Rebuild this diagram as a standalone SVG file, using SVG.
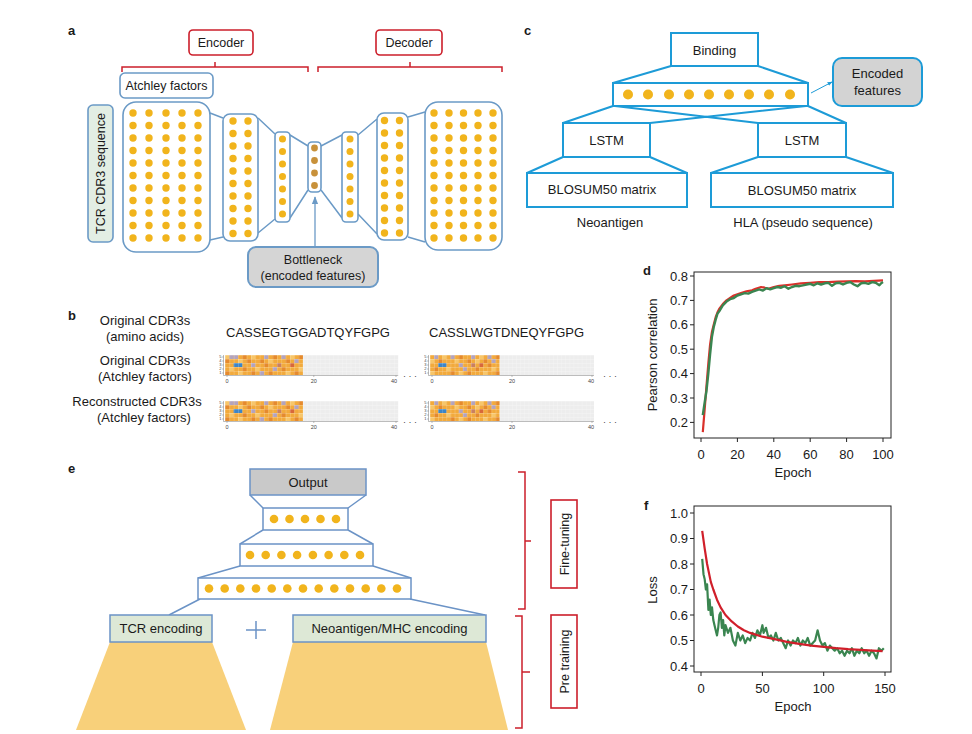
<svg xmlns="http://www.w3.org/2000/svg" width="972" height="734" viewBox="0 0 972 734">
<style>
text{font-family:"Liberation Sans",Arial,sans-serif;fill:#1a1a1a}
.t{font-size:12.5px}
.m{text-anchor:middle}
.e{text-anchor:end}
.lab{font-size:13px;font-weight:bold}
.la{fill:#fff;stroke:#6b9ac6;stroke-width:1.6}
.ln{fill:none;stroke:#6b9ac6;stroke-width:1.5}
.lc{fill:#fff;stroke:#1d9bd7;stroke-width:2}
.lcl{fill:none;stroke:#1d9bd7;stroke-width:2}
.le{fill:#fff;stroke:#6b93c6;stroke-width:1.5}
.lel{fill:none;stroke:#6b93c6;stroke-width:1.5}
.red{fill:#fff;stroke:#cc1f2b;stroke-width:1.6}
.br{fill:none;stroke:#cc1f2b;stroke-width:1.5}
.dot{fill:#f1b41c}
.bd{fill:#c8913a}
.ax{fill:none;stroke:#222;stroke-width:1}
.tk{font-size:13px}
.hs{font-size:4px;fill:#444}
.hx{font-size:5.5px;fill:#444;text-anchor:middle}
</style>
<defs>
<marker id="arA" viewBox="0 0 10 10" refX="9" refY="5" markerWidth="6" markerHeight="6" orient="auto"><path d="M0,1 L10,5 L0,9 z" fill="#6b9ac6"/></marker>
<marker id="arC" viewBox="0 0 10 10" refX="9" refY="5" markerWidth="5" markerHeight="5" orient="auto"><path d="M0,1 L10,5 L0,9 z" fill="#1d9bd7"/></marker>
<pattern id="gr" width="1" height="1" patternUnits="userSpaceOnUse"><path d="M0 0H1M0 0V1" stroke="#fff" stroke-width="0.12" stroke-opacity="0.75" fill="none"/></pattern>
<g id="hm1">
<g transform="scale(4.33,4)">
<rect x="0" y="0" width="18" height="5" fill="#f2aa3c"/>
<g>
<rect x="0" y="0" width="1" height="1" fill="#f7c66a"/><rect x="1" y="0" width="1" height="1" fill="#b3a3bd"/><rect x="2" y="0" width="1" height="1" fill="#b3a3bd"/><rect x="4" y="0" width="1" height="1" fill="#e58a2e"/><rect x="6" y="0" width="1" height="1" fill="#f7c66a"/><rect x="9" y="0" width="1" height="1" fill="#b3a3bd"/><rect x="11" y="0" width="1" height="1" fill="#e58a2e"/><rect x="13" y="0" width="1" height="1" fill="#b3a3bd"/><rect x="15" y="0" width="1" height="1" fill="#f7c66a"/><rect x="17" y="0" width="1" height="1" fill="#e58a2e"/>
<rect x="0" y="1" width="1" height="1" fill="#e58a2e"/><rect x="3" y="1" width="1" height="1" fill="#f7c66a"/><rect x="5" y="1" width="1" height="1" fill="#e58a2e"/><rect x="8" y="1" width="1" height="1" fill="#e58a2e"/><rect x="10" y="1" width="1" height="1" fill="#f7c66a"/><rect x="14" y="1" width="1" height="1" fill="#e58a2e"/><rect x="16" y="1" width="1" height="1" fill="#b3a3bd"/>
<rect x="2" y="2" width="2" height="1" fill="#3d85c6"/><rect x="6" y="2" width="1" height="1" fill="#b3a3bd"/><rect x="9" y="2" width="1" height="1" fill="#e58a2e"/><rect x="12" y="2" width="1" height="1" fill="#c98060"/><rect x="15" y="2" width="1" height="1" fill="#d8683a"/>
<rect x="1" y="3" width="1" height="1" fill="#f7c66a"/><rect x="4" y="3" width="1" height="1" fill="#e58a2e"/><rect x="7" y="3" width="1" height="1" fill="#f7c66a"/><rect x="11" y="3" width="1" height="1" fill="#b3a3bd"/><rect x="13" y="3" width="1" height="1" fill="#e58a2e"/><rect x="17" y="3" width="1" height="1" fill="#f7c66a"/>
<rect x="0" y="4" width="1" height="1" fill="#e58a2e"/><rect x="3" y="4" width="1" height="1" fill="#f7c66a"/><rect x="6" y="4" width="1" height="1" fill="#e58a2e"/><rect x="8" y="4" width="1" height="1" fill="#b3a3bd"/><rect x="10" y="4" width="1" height="1" fill="#e58a2e"/><rect x="14" y="4" width="1" height="1" fill="#f7c66a"/><rect x="16" y="4" width="1" height="1" fill="#e58a2e"/>
</g>
<rect x="18" y="0" width="22" height="5" fill="#ededed"/>
<rect x="0" y="0" width="40" height="5" fill="url(#gr)"/>
</g>
<path d="M-1.5 0V20.5H173.2M-1.5 2H-3M-1.5 6H-3M-1.5 10H-3M-1.5 14H-3M-1.5 18H-3M2 20.5V22M88.8 20.5V22M171 20.5V22" stroke="#555" stroke-width="0.4" fill="none"/>
<text class="hs e" x="-3.5" y="3.4">5</text><text class="hs e" x="-3.5" y="7.4">4</text><text class="hs e" x="-3.5" y="11.4">3</text><text class="hs e" x="-3.5" y="15.4">2</text><text class="hs e" x="-3.5" y="19.4">1</text>
<text class="hx" x="2" y="28">0</text><text class="hx" x="88.8" y="28">20</text><text class="hx" x="169" y="28">40</text>
</g>
<g id="hm2">
<g transform="scale(4.1,4)">
<rect x="0" y="0" width="17" height="5" fill="#f2aa3c"/>
<g>
<rect x="1" y="0" width="1" height="1" fill="#b3a3bd"/><rect x="3" y="0" width="1" height="1" fill="#f7c66a"/><rect x="5" y="0" width="1" height="1" fill="#b3a3bd"/><rect x="7" y="0" width="1" height="1" fill="#e58a2e"/><rect x="10" y="0" width="1" height="1" fill="#b3a3bd"/><rect x="12" y="0" width="1" height="1" fill="#f7c66a"/><rect x="14" y="0" width="1" height="1" fill="#b3a3bd"/><rect x="16" y="0" width="1" height="1" fill="#e58a2e"/>
<rect x="0" y="1" width="1" height="1" fill="#f7c66a"/><rect x="2" y="1" width="1" height="1" fill="#e58a2e"/><rect x="6" y="1" width="1" height="1" fill="#f7c66a"/><rect x="9" y="1" width="1" height="1" fill="#e58a2e"/><rect x="11" y="1" width="1" height="1" fill="#f7c66a"/><rect x="13" y="1" width="1" height="1" fill="#e58a2e"/><rect x="15" y="1" width="1" height="1" fill="#b3a3bd"/>
<rect x="2" y="2" width="2" height="1" fill="#3d85c6"/><rect x="7" y="2" width="1" height="1" fill="#b3a3bd"/><rect x="10" y="2" width="1" height="1" fill="#c98060"/><rect x="12" y="2" width="1" height="1" fill="#d8683a"/><rect x="14" y="2" width="1" height="1" fill="#e58a2e"/>
<rect x="1" y="3" width="1" height="1" fill="#e58a2e"/><rect x="4" y="3" width="1" height="1" fill="#f7c66a"/><rect x="8" y="3" width="1" height="1" fill="#b3a3bd"/><rect x="11" y="3" width="1" height="1" fill="#e58a2e"/><rect x="15" y="3" width="1" height="1" fill="#f7c66a"/>
<rect x="0" y="4" width="1" height="1" fill="#f7c66a"/><rect x="5" y="4" width="1" height="1" fill="#e58a2e"/><rect x="7" y="4" width="1" height="1" fill="#f7c66a"/><rect x="9" y="4" width="1" height="1" fill="#e58a2e"/><rect x="13" y="4" width="1" height="1" fill="#f7c66a"/><rect x="16" y="4" width="1" height="1" fill="#e58a2e"/>
</g>
<rect x="17" y="0" width="23" height="5" fill="#ededed"/>
<rect x="0" y="0" width="40" height="5" fill="url(#gr)"/>
</g>
<path d="M-1.5 0V20.5H164M-1.5 2H-3M-1.5 6H-3M-1.5 10H-3M-1.5 14H-3M-1.5 18H-3M2 20.5V22M82 20.5V22M162 20.5V22" stroke="#555" stroke-width="0.4" fill="none"/>
<text class="hs e" x="-3.5" y="3.4">5</text><text class="hs e" x="-3.5" y="7.4">4</text><text class="hs e" x="-3.5" y="11.4">3</text><text class="hs e" x="-3.5" y="15.4">2</text><text class="hs e" x="-3.5" y="19.4">1</text>
<text class="hx" x="2" y="28">0</text><text class="hx" x="82" y="28">20</text><text class="hx" x="161" y="28">40</text>
</g>
</defs>

<!-- Panel labels -->
<g id="panel-labels">
<text class="lab" x="68" y="35">a</text>
<text class="lab" x="68" y="320">b</text>
<text class="lab" x="524" y="35">c</text>
<text class="lab" x="643" y="275">d</text>
<text class="lab" x="68" y="473">e</text>
<text class="lab" x="644" y="510">f</text>
</g>

<!-- ===== Panel a ===== -->
<g id="a-connectors">
<path class="br" d="M122 72V67H308V72M215 67V62"/>
<path class="br" d="M318 72V67H502V72M410 67V62"/>
<path class="ln" d="M210 113L223 118M210 240L223 237M258 118L275 134M258 233L275 219M290 135L308 146M290 218L308 190M321 146L342 135M321 190L342 218M358 135L377 119M358 214L377 234M408 117L425 112M408 237L425 242"/>
<line x1="315" y1="246" x2="315" y2="197" stroke="#6b9ac6" stroke-width="1.3" marker-end="url(#arA)"/>
</g>
<g id="encoder-label"><rect class="red" x="189" y="30" width="64" height="25" rx="4"/><text class="t m" x="221" y="47">Encoder</text></g>
<g id="decoder-label"><rect class="red" x="376" y="30" width="66" height="25" rx="4"/><text class="t m" x="409" y="47">Decoder</text></g>
<g id="atchley"><rect class="la" x="120" y="73" width="93" height="25" rx="5"/><text class="t m" x="166.5" y="90">Atchley factors</text></g>
<g id="tcr-seq"><rect x="88" y="105" width="25" height="137" rx="5" fill="#e3eee4" stroke="#6b9ac6" stroke-width="1.6"/><text class="t m" transform="translate(105,173.5) rotate(-90)">TCR CDR3 sequence</text></g>
<g id="bottleneck-label"><rect x="248" y="247" width="130" height="40" rx="8" fill="#d5d5d5" stroke="#6b9ac6" stroke-width="2"/><text class="t m" x="313" y="264">Bottleneck</text><text class="t m" x="313" y="280">(encoded features)</text></g>

<g id="a-layer1"><rect class="la" x="123" y="102" width="87" height="150" rx="13"/>
<g class="dot">
<circle cx="133" cy="113" r="3.7"/><circle cx="149" cy="113" r="3.7"/><circle cx="166" cy="113" r="3.7"/><circle cx="182" cy="113" r="3.7"/><circle cx="198" cy="113" r="3.7"/>
<circle cx="133" cy="125.5" r="3.7"/><circle cx="149" cy="125.5" r="3.7"/><circle cx="166" cy="125.5" r="3.7"/><circle cx="182" cy="125.5" r="3.7"/><circle cx="198" cy="125.5" r="3.7"/>
<circle cx="133" cy="138" r="3.7"/><circle cx="149" cy="138" r="3.7"/><circle cx="166" cy="138" r="3.7"/><circle cx="182" cy="138" r="3.7"/><circle cx="198" cy="138" r="3.7"/>
<circle cx="133" cy="150.5" r="3.7"/><circle cx="149" cy="150.5" r="3.7"/><circle cx="166" cy="150.5" r="3.7"/><circle cx="182" cy="150.5" r="3.7"/><circle cx="198" cy="150.5" r="3.7"/>
<circle cx="133" cy="163" r="3.7"/><circle cx="149" cy="163" r="3.7"/><circle cx="166" cy="163" r="3.7"/><circle cx="182" cy="163" r="3.7"/><circle cx="198" cy="163" r="3.7"/>
<circle cx="133" cy="175.5" r="3.7"/><circle cx="149" cy="175.5" r="3.7"/><circle cx="166" cy="175.5" r="3.7"/><circle cx="182" cy="175.5" r="3.7"/><circle cx="198" cy="175.5" r="3.7"/>
<circle cx="133" cy="188" r="3.7"/><circle cx="149" cy="188" r="3.7"/><circle cx="166" cy="188" r="3.7"/><circle cx="182" cy="188" r="3.7"/><circle cx="198" cy="188" r="3.7"/>
<circle cx="133" cy="200.5" r="3.7"/><circle cx="149" cy="200.5" r="3.7"/><circle cx="166" cy="200.5" r="3.7"/><circle cx="182" cy="200.5" r="3.7"/><circle cx="198" cy="200.5" r="3.7"/>
<circle cx="133" cy="213" r="3.7"/><circle cx="149" cy="213" r="3.7"/><circle cx="166" cy="213" r="3.7"/><circle cx="182" cy="213" r="3.7"/><circle cx="198" cy="213" r="3.7"/>
<circle cx="133" cy="225.5" r="3.7"/><circle cx="149" cy="225.5" r="3.7"/><circle cx="166" cy="225.5" r="3.7"/><circle cx="182" cy="225.5" r="3.7"/><circle cx="198" cy="225.5" r="3.7"/>
<circle cx="133" cy="238" r="3.7"/><circle cx="149" cy="238" r="3.7"/><circle cx="166" cy="238" r="3.7"/><circle cx="182" cy="238" r="3.7"/><circle cx="198" cy="238" r="3.7"/>
</g></g>
<g id="a-layer2"><rect class="la" x="223" y="114" width="35" height="127" rx="7"/>
<g class="dot">
<circle cx="233" cy="121" r="3.7"/><circle cx="248" cy="121" r="3.7"/><circle cx="233" cy="133.5" r="3.7"/><circle cx="248" cy="133.5" r="3.7"/><circle cx="233" cy="146" r="3.7"/><circle cx="248" cy="146" r="3.7"/><circle cx="233" cy="158.5" r="3.7"/><circle cx="248" cy="158.5" r="3.7"/><circle cx="233" cy="171" r="3.7"/><circle cx="248" cy="171" r="3.7"/><circle cx="233" cy="183.5" r="3.7"/><circle cx="248" cy="183.5" r="3.7"/><circle cx="233" cy="196" r="3.7"/><circle cx="248" cy="196" r="3.7"/><circle cx="233" cy="208.5" r="3.7"/><circle cx="248" cy="208.5" r="3.7"/><circle cx="233" cy="221" r="3.7"/><circle cx="248" cy="221" r="3.7"/><circle cx="233" cy="233.5" r="3.7"/><circle cx="248" cy="233.5" r="3.7"/>
</g></g>
<g id="a-layer3"><rect class="la" x="275" y="132" width="15" height="90" rx="4"/>
<g class="dot"><circle cx="282.5" cy="139" r="3.5"/><circle cx="282.5" cy="151.5" r="3.5"/><circle cx="282.5" cy="164" r="3.5"/><circle cx="282.5" cy="176.5" r="3.5"/><circle cx="282.5" cy="189" r="3.5"/><circle cx="282.5" cy="201.5" r="3.5"/><circle cx="282.5" cy="214" r="3.5"/></g></g>
<g id="a-bottleneck"><rect class="la" x="308" y="142" width="13" height="50" rx="4"/>
<g class="bd"><circle cx="314.5" cy="148" r="3.4"/><circle cx="314.5" cy="160.5" r="3.4"/><circle cx="314.5" cy="173" r="3.4"/><circle cx="314.5" cy="185.5" r="3.4"/></g></g>
<g id="a-layer5"><rect class="la" x="342" y="132" width="16" height="90" rx="4"/>
<g class="dot"><circle cx="350" cy="139" r="3.5"/><circle cx="350" cy="151.5" r="3.5"/><circle cx="350" cy="164" r="3.5"/><circle cx="350" cy="176.5" r="3.5"/><circle cx="350" cy="189" r="3.5"/><circle cx="350" cy="201.5" r="3.5"/><circle cx="350" cy="214" r="3.5"/></g></g>
<g id="a-layer6"><rect class="la" x="377" y="113" width="31" height="127" rx="7"/>
<g class="dot">
<circle cx="384.5" cy="120.5" r="3.7"/><circle cx="399.5" cy="120.5" r="3.7"/><circle cx="384.5" cy="133" r="3.7"/><circle cx="399.5" cy="133" r="3.7"/><circle cx="384.5" cy="145.5" r="3.7"/><circle cx="399.5" cy="145.5" r="3.7"/><circle cx="384.5" cy="158" r="3.7"/><circle cx="399.5" cy="158" r="3.7"/><circle cx="384.5" cy="170.5" r="3.7"/><circle cx="399.5" cy="170.5" r="3.7"/><circle cx="384.5" cy="183" r="3.7"/><circle cx="399.5" cy="183" r="3.7"/><circle cx="384.5" cy="195.5" r="3.7"/><circle cx="399.5" cy="195.5" r="3.7"/><circle cx="384.5" cy="208" r="3.7"/><circle cx="399.5" cy="208" r="3.7"/><circle cx="384.5" cy="220.5" r="3.7"/><circle cx="399.5" cy="220.5" r="3.7"/><circle cx="384.5" cy="233" r="3.7"/><circle cx="399.5" cy="233" r="3.7"/>
</g></g>
<g id="a-layer7"><rect class="la" x="425" y="102" width="77" height="148" rx="13"/>
<g class="dot">
<circle cx="434" cy="113" r="3.7"/><circle cx="449" cy="113" r="3.7"/><circle cx="463.5" cy="113" r="3.7"/><circle cx="478" cy="113" r="3.7"/><circle cx="493" cy="113" r="3.7"/>
<circle cx="434" cy="125.5" r="3.7"/><circle cx="449" cy="125.5" r="3.7"/><circle cx="463.5" cy="125.5" r="3.7"/><circle cx="478" cy="125.5" r="3.7"/><circle cx="493" cy="125.5" r="3.7"/>
<circle cx="434" cy="138" r="3.7"/><circle cx="449" cy="138" r="3.7"/><circle cx="463.5" cy="138" r="3.7"/><circle cx="478" cy="138" r="3.7"/><circle cx="493" cy="138" r="3.7"/>
<circle cx="434" cy="150.5" r="3.7"/><circle cx="449" cy="150.5" r="3.7"/><circle cx="463.5" cy="150.5" r="3.7"/><circle cx="478" cy="150.5" r="3.7"/><circle cx="493" cy="150.5" r="3.7"/>
<circle cx="434" cy="163" r="3.7"/><circle cx="449" cy="163" r="3.7"/><circle cx="463.5" cy="163" r="3.7"/><circle cx="478" cy="163" r="3.7"/><circle cx="493" cy="163" r="3.7"/>
<circle cx="434" cy="175.5" r="3.7"/><circle cx="449" cy="175.5" r="3.7"/><circle cx="463.5" cy="175.5" r="3.7"/><circle cx="478" cy="175.5" r="3.7"/><circle cx="493" cy="175.5" r="3.7"/>
<circle cx="434" cy="188" r="3.7"/><circle cx="449" cy="188" r="3.7"/><circle cx="463.5" cy="188" r="3.7"/><circle cx="478" cy="188" r="3.7"/><circle cx="493" cy="188" r="3.7"/>
<circle cx="434" cy="200.5" r="3.7"/><circle cx="449" cy="200.5" r="3.7"/><circle cx="463.5" cy="200.5" r="3.7"/><circle cx="478" cy="200.5" r="3.7"/><circle cx="493" cy="200.5" r="3.7"/>
<circle cx="434" cy="213" r="3.7"/><circle cx="449" cy="213" r="3.7"/><circle cx="463.5" cy="213" r="3.7"/><circle cx="478" cy="213" r="3.7"/><circle cx="493" cy="213" r="3.7"/>
<circle cx="434" cy="225.5" r="3.7"/><circle cx="449" cy="225.5" r="3.7"/><circle cx="463.5" cy="225.5" r="3.7"/><circle cx="478" cy="225.5" r="3.7"/><circle cx="493" cy="225.5" r="3.7"/>
<circle cx="434" cy="238" r="3.7"/><circle cx="449" cy="238" r="3.7"/><circle cx="463.5" cy="238" r="3.7"/><circle cx="478" cy="238" r="3.7"/><circle cx="493" cy="238" r="3.7"/>
</g></g>

<!-- ===== Panel b ===== -->
<g id="panel-b">
<text class="t m" x="145" y="325" style="font-size:13px">Original CDR3s</text>
<text class="t m" x="145" y="341" style="font-size:13px">(amino acids)</text>
<text class="t m" x="145" y="365" style="font-size:13px">Original CDR3s</text>
<text class="t m" x="145" y="381" style="font-size:13px">(Atchley factors)</text>
<text class="t m" x="137" y="406" style="font-size:13px">Reconstructed CDR3s</text>
<text class="t m" x="144" y="422" style="font-size:13px">(Atchley factors)</text>
<text x="226" y="337" style="font-size:13px">CASSEGTGGADTQYFGPG</text>
<text x="429" y="337" style="font-size:13px">CASSLWGTDNEQYFGPG</text>
<use href="#hm1" transform="translate(225,355)"/>
<use href="#hm1" transform="translate(225,401)"/>
<use href="#hm2" transform="translate(430,355)"/>
<use href="#hm2" transform="translate(430,401)"/>
<text x="403" y="379" style="font-size:9px;fill:#444">· · ·</text>
<text x="603" y="379" style="font-size:9px;fill:#444">· · ·</text>
<text x="403" y="425" style="font-size:9px;fill:#444">· · ·</text>
<text x="603" y="425" style="font-size:9px;fill:#444">· · ·</text>
</g>

<!-- ===== Panel c ===== -->
<g id="c-connectors">
<path class="lcl" d="M671 66L613 83M758 66L808 83M613 106L563 123M615 106L758 123M806 106L650 123M808 106L846 123M563 157L527 173M650 157L687 173M758 157L711 173M846 157L893 173"/>
<line x1="811" y1="93" x2="832" y2="82" stroke="#1d9bd7" stroke-width="1" marker-end="url(#arC)"/>
</g>
<g id="c-binding"><rect class="lc" x="671" y="33" width="87" height="33"/><text class="m" x="714.5" y="55" style="font-size:13px">Binding</text></g>
<g id="c-features"><rect class="lc" x="613" y="83" width="195" height="23"/>
<g class="dot"><circle cx="628" cy="94.5" r="5"/><circle cx="648" cy="94.5" r="5"/><circle cx="669" cy="94.5" r="5"/><circle cx="689" cy="94.5" r="5"/><circle cx="709" cy="94.5" r="5"/><circle cx="729" cy="94.5" r="5"/><circle cx="749" cy="94.5" r="5"/><circle cx="769" cy="94.5" r="5"/><circle cx="790" cy="94.5" r="5"/></g></g>
<g id="c-encoded"><rect x="833" y="58" width="89" height="48" rx="9" fill="#d3d3d3" stroke="#1d9bd7" stroke-width="2"/><text class="m" x="877.5" y="78" style="font-size:13px">Encoded</text><text class="m" x="877.5" y="95" style="font-size:13px">features</text></g>
<g id="c-lstm1"><rect class="lc" x="563" y="123" width="87" height="34"/><text class="m" x="606.5" y="145" style="font-size:13px">LSTM</text></g>
<g id="c-lstm2"><rect class="lc" x="758" y="123" width="88" height="34"/><text class="m" x="802" y="145" style="font-size:13px">LSTM</text></g>
<g id="c-blosum1"><rect class="lc" x="527" y="173" width="160" height="34"/><text class="m" x="602" y="194" style="font-size:13px">BLOSUM50 matrix</text></g>
<g id="c-blosum2"><rect class="lc" x="711" y="173" width="182" height="34"/><text class="m" x="802" y="195" style="font-size:13px">BLOSUM50 matrix</text></g>
<g id="c-captions"><text class="m" x="610" y="227" style="font-size:13px">Neoantigen</text><text class="m" x="803" y="227" style="font-size:13px">HLA (pseudo sequence)</text></g>

<!-- ===== Panel d ===== -->
<g id="plot-d">
<rect class="ax" x="694" y="272" width="197" height="166"/>
<path class="ax" d="M690 276H694M690 300.4H694M690 324.8H694M690 349.2H694M690 373.6H694M690 398H694M690 422.4H694M701 438V442M737.4 438V442M773.8 438V442M810.2 438V442M846.6 438V442M883 438V442"/>
<g class="tk">
<text class="e" x="688" y="280.5">0.8</text><text class="e" x="688" y="305">0.7</text><text class="e" x="688" y="329.3">0.6</text><text class="e" x="688" y="353.7">0.5</text><text class="e" x="688" y="378">0.4</text><text class="e" x="688" y="402.5">0.3</text><text class="e" x="688" y="427">0.2</text>
<text class="m" x="701" y="459">0</text><text class="m" x="737.4" y="459">20</text><text class="m" x="773.8" y="459">40</text><text class="m" x="810.2" y="459">60</text><text class="m" x="846.6" y="459">80</text><text class="m" x="883" y="459">100</text>
<text class="m" x="793" y="477">Epoch</text>
<text class="m" transform="translate(657,355) rotate(-90)">Pearson correlation</text>
</g>
<polyline fill="none" stroke="#d9302a" stroke-width="2.2" stroke-linejoin="round" points="702.8,432.2 704.6,410.2 706.5,385.8 708.3,363.8 710.1,344.3 711.9,332.1 713.7,324.8 715.6,317.5 717.4,312.6 719.2,308.9 722.8,304.1 726.5,300.4 730.1,298 733.8,295.5 737.4,294.3 741,293.1 746.5,291.4 752,290.2 755.6,288.7 761.1,287 764.7,287.7 768.3,288.7 773.8,287 779.3,285.8 784.7,285.3 792,284.5 801.1,283.3 810.2,282.8 819.3,282.1 828.4,282.1 837.5,281.6 846.6,281.4 855.7,281.1 864.8,281.4 873.9,280.9 883,280.4"/>
<polyline fill="none" stroke="#3a8550" stroke-width="2.4" stroke-linejoin="round" points="702.8,415.1 704.6,402.9 706.5,390.7 708.3,373.6 710.1,354.1 711.9,337 713.7,327.2 715.6,319.9 717.4,313.8 719.2,311.4 722.8,305.3 726.5,301.6 730.1,299.2 733.8,298 737.4,295.5 741,294.3 744.7,293.1 748.3,293.6 752,291.9 755.6,290.6 759.2,289.4 762.9,290.6 766.5,288.2 770.2,289.4 773.8,288.2 777.4,287 781.1,287.7 784.7,286.2 788.4,288.7 792,287 795.6,285.8 799.3,286.2 802.9,285.3 806.6,284.5 810.2,283.8 813.8,285.3 817.5,283.3 821.1,284.5 824.8,283.3 828.4,282.8 832,285.8 835.7,283.3 839.3,282.8 843,284.5 846.6,282.8 850.2,282.1 853.9,284.5 857.5,286.2 861.2,283.3 864.8,282.8 868.4,283.8 872.1,282.1 875.7,282.8 879.4,285.3 881.2,283.3 883,282.1"/>
</g>

<!-- ===== Panel f ===== -->
<g id="plot-f">
<rect class="ax" x="694" y="506" width="197" height="166"/>
<path class="ax" d="M690 513H694M690 538.5H694M690 564H694M690 589.5H694M690 615H694M690 640.5H694M690 666H694M701 672V676M762.4 672V676M823.7 672V676M885 672V676"/>
<g class="tk">
<text class="e" x="688" y="517.5">1.0</text><text class="e" x="688" y="543">0.9</text><text class="e" x="688" y="568.5">0.8</text><text class="e" x="688" y="594">0.7</text><text class="e" x="688" y="619.5">0.6</text><text class="e" x="688" y="645">0.5</text><text class="e" x="688" y="670.5">0.4</text>
<text class="m" x="701" y="693">0</text><text class="m" x="762.4" y="693">50</text><text class="m" x="823.7" y="693">100</text><text class="m" x="885" y="693">150</text>
<text class="m" x="793" y="711">Epoch</text>
<text class="m" transform="translate(657,590) rotate(-90)">Loss</text>
</g>
<polyline fill="none" stroke="#3a8550" stroke-width="2.2" stroke-linejoin="round" points="702.2,558.9 703.5,574.2 704.7,579.3 705.9,589.5 707.1,584.4 708.4,609.9 709.6,599.7 710.8,615 712,607.4 713.3,620.1 714.5,625.2 715.7,630.3 717,635.4 718.2,627.8 719.4,615 720.6,612.5 721.9,627.8 723.1,620.1 724.3,635.4 725.5,625.2 728,632.9 730.4,627.8 732.9,640.5 735.4,645.6 737.8,632.9 740.3,640.5 742.7,635.4 745.2,643.1 747.6,637.9 750.1,640.5 752.5,632.9 755,637.9 757.4,630.3 759.9,635.4 762.4,625.2 763.6,632.9 766,627.8 768.5,637.9 770.9,635.4 773.4,640.5 775.8,632.9 778.3,640.5 780.8,637.9 783.2,643.1 785.7,648.2 788.1,640.5 790.6,645.6 793,640.5 795.5,643.1 797.9,637.9 800.4,645.6 802.8,640.5 805.3,643.1 807.7,637.9 810.2,645.6 812.7,643.1 815.1,640.5 817.6,630.3 820,640.5 822.5,645.6 824.9,643.1 827.4,650.7 829.8,645.6 832.3,648.2 834.7,650.7 837.2,648.2 839.7,653.3 842.1,650.7 844.6,655.8 847,650.7 849.5,653.3 851.9,648.2 854.4,655.8 856.8,650.7 859.3,653.3 861.7,648.2 864.2,653.3 866.6,650.7 869.1,655.8 871.6,650.7 874,653.3 876.5,658.4 878.9,648.2 881.4,650.7 883.8,648.2"/>
<polyline fill="none" stroke="#d01f2a" stroke-width="2.2" stroke-linejoin="round" points="702.2,530.9 704.7,548.7 707.1,564 710.8,581.9 713.3,589.5 717,599.7 720.6,607.4 725.5,615 731.7,621.4 737.8,626.5 743.9,630.3 750.1,632.9 762.4,636.7 774.6,639.2 786.9,641.8 799.2,643.8 811.4,645.6 823.7,646.9 836,648.2 848.2,649.2 860.5,649.9 872.8,650.7 882.6,651.2"/>
</g>

<!-- ===== Panel e ===== -->
<g id="e-connectors">
<path class="lel" d="M250 495L263 508M366 495L348 508M263 530L240 544M348 530L373 544M240 566L198 578M373 566L411 578M200 599L169 615M410 599L485 615"/>
<path class="lel" d="M246 630H266M256 621V639"/>
<path class="br" d="M518 472H525V609H518M525 541H531"/>
<path class="br" d="M515 616H522V728H515M522 672H530"/>
</g>
<g id="e-output"><rect x="250" y="469" width="116" height="26" fill="#c9c9c9" stroke="#6b93c6" stroke-width="1.5"/><text class="m" x="308" y="487" style="font-size:13px">Output</text></g>
<g id="e-layer1"><rect class="le" x="263" y="508" width="85" height="22"/>
<g class="dot"><circle cx="274" cy="519" r="4.3"/><circle cx="289.5" cy="519" r="4.3"/><circle cx="305" cy="519" r="4.3"/><circle cx="320.5" cy="519" r="4.3"/><circle cx="336" cy="519" r="4.3"/></g></g>
<g id="e-layer2"><rect class="le" x="240" y="544" width="133" height="22"/>
<g class="dot"><circle cx="250" cy="555" r="4.3"/><circle cx="265.7" cy="555" r="4.3"/><circle cx="281.4" cy="555" r="4.3"/><circle cx="297.1" cy="555" r="4.3"/><circle cx="312.9" cy="555" r="4.3"/><circle cx="328.6" cy="555" r="4.3"/><circle cx="344.3" cy="555" r="4.3"/><circle cx="360" cy="555" r="4.3"/></g></g>
<g id="e-layer3"><rect class="le" x="198" y="578" width="213" height="21"/>
<g class="dot"><circle cx="209" cy="588.5" r="4.3"/><circle cx="224.7" cy="588.5" r="4.3"/><circle cx="240.3" cy="588.5" r="4.3"/><circle cx="256" cy="588.5" r="4.3"/><circle cx="271.7" cy="588.5" r="4.3"/><circle cx="287.3" cy="588.5" r="4.3"/><circle cx="303" cy="588.5" r="4.3"/><circle cx="318.7" cy="588.5" r="4.3"/><circle cx="334.3" cy="588.5" r="4.3"/><circle cx="350" cy="588.5" r="4.3"/><circle cx="365.7" cy="588.5" r="4.3"/><circle cx="381.3" cy="588.5" r="4.3"/><circle cx="397" cy="588.5" r="4.3"/></g></g>
<g id="e-tcr"><polygon points="110,642 212,642 246,730 76,730" fill="#f8d07a"/><rect x="110" y="615" width="102" height="27" fill="#dde8d6" stroke="#6b93c6" stroke-width="1.5"/><text class="m" x="161" y="633" style="font-size:13px">TCR encoding</text></g>
<g id="e-neo"><polygon points="293,642 486,642 508,730 270,730" fill="#f8d07a"/><rect x="293" y="615" width="193" height="27" fill="#dde8d6" stroke="#6b93c6" stroke-width="1.5"/><text class="m" x="389.5" y="633" style="font-size:13px">Neoantigen/MHC encoding</text></g>
<g id="e-finetune"><rect class="red" x="551" y="500" width="26" height="88"/><text class="m" transform="translate(568.5,544) rotate(-90)" style="font-size:12.5px">Fine-tuning</text></g>
<g id="e-pretrain"><rect class="red" x="551" y="615" width="26" height="93"/><text class="m" transform="translate(568.5,661.5) rotate(-90)" style="font-size:12.5px">Pre training</text></g>
</svg>
